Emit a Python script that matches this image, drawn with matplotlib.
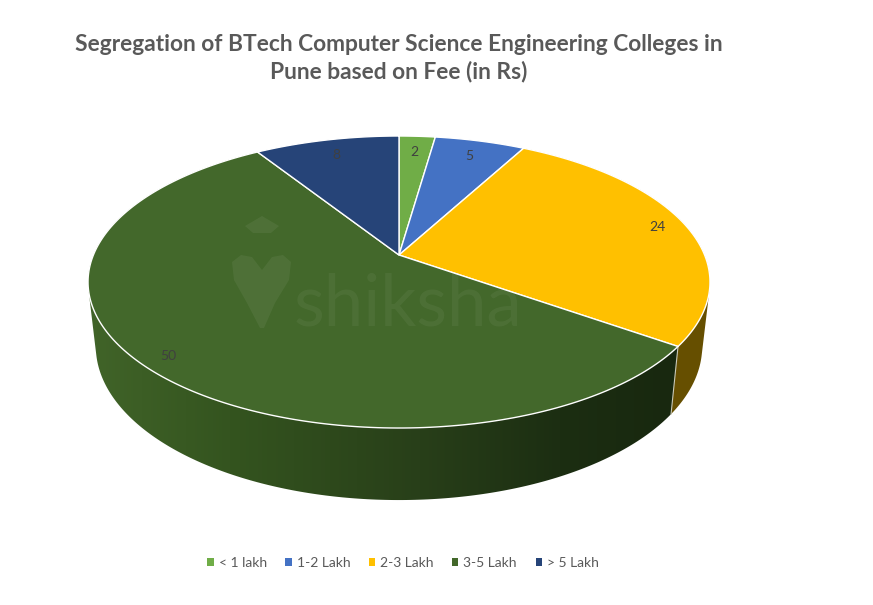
import numpy as np
import matplotlib
matplotlib.use("Agg")
import matplotlib.pyplot as plt
from matplotlib.patches import Patch, Polygon
from matplotlib.colors import to_rgb

# data
categories = ["< 1 lakh", "1-2 Lakh", "2-3 Lakh", "3-5 Lakh", "> 5 Lakh"]
values = [2, 5, 24, 50, 8]
colors = ["#70AD47", "#4472C4", "#FFC000", "#43682B", "#264478"]
title = "Segregation of BTech Computer Science Engineering Colleges in\nPune based on Fee (in Rs)"

# how far out each value label sits on the slice
label_r = [0.85, 0.85, 0.90, 0.92, 0.85]

# perspective set up of the disc, in pixels
CX, CY = 399, 255
RX, RY = 305.6, 141
K = 0.185
BOTTOM_SX, BOTTOM_SY, BOTTOM_Y = 0.975, 1.054, 317.7


def project(ang, r=1.0):
    # ang in degrees clockwise from top
    a = np.radians(ang)
    x = r * np.sin(a)
    y = r * np.cos(a)
    d = 1 + K * y
    return x / d * RX, y / d * RY


def top(ang, r=1.0):
    px, py = project(ang, r)
    return CX + px, CY - py


def bottom(ang):
    px, py = project(ang)
    return CX + BOTTOM_SX * px, BOTTOM_Y - BOTTOM_SY * py


def hull(points):
    # convex hull, the top face hides whatever it adds behind the rim
    pts = sorted(set(points))

    def half(seq):
        out = []
        for p in seq:
            while len(out) > 1 and ((out[-1][0] - out[-2][0]) * (p[1] - out[-2][1])
                                    - (out[-1][1] - out[-2][1]) * (p[0] - out[-2][0])) <= 0:
                out.pop()
            out.append(p)
        return out[:-1]

    return half(pts) + half(pts[::-1])


def wall(a0, a1):
    angs = np.linspace(a0, a1, 300)
    return hull([top(t) for t in angs] + [bottom(t) for t in angs])


# shading of the green wall from left to right, pixel x and colour
shade_x = [97, 230, 420, 560, 671]
shade_c = ["#406328", "#34541f", "#283f19", "#1c2e12", "#18280f"]
yellow_wall = "#664f00"

fig, ax = plt.subplots(figsize=(8.73, 6.05), dpi=100)
fig.subplots_adjust(left=0, right=1, top=1, bottom=0)

edges = np.concatenate([[0], np.cumsum(values)]) / sum(values) * 360

# green side wall is a horizontal gradient clipped to the wall outline
xs = np.arange(873)
rgb = np.array([to_rgb(c) for c in shade_c])
grad = np.stack([np.interp(xs, shade_x, rgb[:, i]) for i in range(3)], axis=-1)[np.newaxis, :, :]
im = ax.imshow(grad, extent=(0, 873, 605, 0), aspect="auto", interpolation="bilinear", zorder=2)
green_side = Polygon(wall(edges[3], edges[4]), closed=True, transform=ax.transData)
im.set_clip_path(green_side)

ax.add_patch(Polygon(wall(edges[2], edges[3]), closed=True, facecolor=yellow_wall,
                     edgecolor="none", zorder=1.5))

ax.set_xlim(0, 873)
ax.set_ylim(605, 0)
ax.axis("off")

# seam between the yellow and green wall
seam = edges[3]
ax.plot([top(seam)[0], bottom(seam)[0]], [top(seam)[1], bottom(seam)[1]],
        color="#c9c9b8", lw=0.8, zorder=3)

# top face
for i, c in enumerate(colors):
    angs = np.linspace(edges[i], edges[i + 1], 200)
    pts = [top(a) for a in angs]
    pts.append((CX, CY))
    ax.add_patch(Polygon(pts, closed=True, facecolor=c, edgecolor="white", lw=1.0,
                         joinstyle="round", zorder=4))

# watermark
mark = dict(facecolor="white", edgecolor="none", alpha=0.06, zorder=5)
ax.add_patch(Polygon([(232, 262), (241, 255), (252, 257), (262, 270), (272, 257), (283, 255),
                      (291, 262), (289, 280), (275, 303), (264, 328), (260, 328),
                      (247, 303), (234, 280)], closed=True, **mark))
ax.add_patch(Polygon([(245, 226), (262, 216), (279, 226), (271, 233), (253, 233)], closed=True, **mark))
ax.text(408, 305, "shiksha", fontsize=51, family="Lato", color="white", alpha=0.05,
        ha="center", va="center", zorder=5)

# slice labels
for i, v in enumerate(values):
    mid = (edges[i] + edges[i + 1]) / 2
    lx, ly = top(mid, label_r[i])
    ax.text(lx, ly, str(v), fontsize=10, family="Lato", color="#404040",
            ha="center", va="center", zorder=6)

ax.text(399, 58.5, title, fontsize=16.4, family="Lato", fontweight="bold", color="#595959",
        ha="center", va="center", linespacing=1.3, zorder=6)

handles = [Patch(facecolor=c, edgecolor="none", label=n) for n, c in zip(categories, colors)]
ax.legend(handles=handles, loc="center", bbox_to_anchor=(403 / 873, 1 - 563 / 605), ncol=5,
          frameon=False, handlelength=0.45, handleheight=0.5, handletextpad=0.35,
          columnspacing=1.35, prop={"family": "Lato", "size": 10}, labelcolor="#595959")

fig.savefig("out.png", dpi=100)
